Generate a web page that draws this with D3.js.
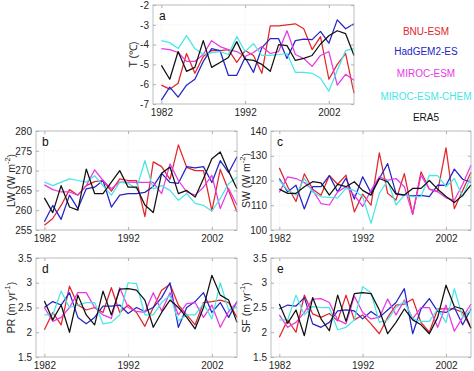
<!DOCTYPE html>
<html><head><meta charset="utf-8">
<script src="https://cdn.jsdelivr.net/npm/d3@7"></script>
<style>body{margin:0;background:#fff}svg{display:block}</style>
</head><body>
<svg id="c" width="474" height="371"></svg>
<script>
const years = d3.range(1982, 2006);
const seriesNames = ["BNU-ESM","HadGEM2-ES","MIROC-ESM","MIROC-ESM-CHEM","ERA5"];
const seriesColors = ["#e3262b","#2424c8","#e838e4","#48e6e6","#111111"];

// Panel a: T (°C)
const T_BNU   = [-6.05,-6.25,-5.95,-4.45,-5.45,-4.6,-4.3,-4.3,-4.25,-4.9,-4.3,-4.55,-5.45,-3.05,-3.05,-3.0,-2.95,-3.2,-4.25,-3.6,-5.75,-5.0,-4.45,-6.45];
const T_Had   = [-6.8,-6.15,-6.65,-6.05,-5.75,-4.85,-4.2,-4.3,-5.55,-5.55,-4.65,-5.4,-4.15,-3.7,-3.7,-4.7,-3.8,-3.72,-3.75,-3.33,-3.93,-2.75,-3.2,-2.95];
const T_MIR   = [-4.2,-4.25,-4.4,-4.85,-4.85,-4.5,-3.8,-4.1,-4.25,-4.35,-4.6,-4.4,-4.1,-4.45,-4.35,-3.3,-4.5,-4.7,-5.1,-4.55,-4.35,-6.05,-5.5,-5.8];
const T_CHEM  = [-3.8,-3.9,-4.2,-3.55,-4.2,-4.5,-4.4,-4.35,-4.5,-3.6,-4.35,-3.95,-4.55,-4.55,-4.5,-4.45,-5.4,-5.4,-5.45,-5.7,-6.35,-5.3,-4.3,-4.2];
const T_ERA   = [-5.05,-5.75,-4.35,-5.35,-5.15,-3.8,-5.15,-4.9,-4.65,-3.85,-4.75,-4.8,-5.0,-5.35,-4.0,-4.05,-4.8,-4.7,-4.55,-3.97,-3.55,-3.3,-3.45,-4.55];

// Panel b: LW (W m-2)
const LW_BNU  = [256.2,257.9,261.2,265.2,263.8,266.2,267.2,267.5,264.8,267.9,267.5,267.5,258.4,272.2,271.0,267.8,276.5,270.8,270.0,270.0,259.8,270.3,265.0,259.6];
const LW_Had  = [257.1,261.2,257.7,263.8,260.4,265.4,265.8,267.5,260.8,263.8,264.2,264.2,264.5,266.0,269.3,267.0,266.8,271.0,270.7,271.0,267.0,272.5,269.5,273.5];
const LW_MIR  = [266.4,265.2,264.6,264.6,263.8,266.2,270.2,267.5,265.4,267.1,267.1,267.0,267.0,267.0,264.2,271.7,267.5,264.6,263.8,265.8,268.8,260.4,265.5,261.3];
const LW_CHEM = [267.1,266.2,267.1,267.9,267.5,267.1,268.7,266.2,263.8,267.1,266.8,265.4,272.5,265.4,266.2,265.0,262.5,264.2,261.7,261.2,259.8,262.9,266.7,268.3];
const LW_ERA  = [263.1,259.4,266.2,260.8,260.0,270.4,264.2,264.2,267.1,270.0,265.8,265.8,261.3,259.4,269.3,270.9,264.2,265.0,263.3,268.0,273.0,274.7,269.8,265.4];

// Panel c: SW (W m-2)
const SW_BNU  = [125.1,117.5,111.5,122.7,116.5,114.0,122.0,118.5,122.2,107.3,114.5,110.0,131.2,114.8,112.1,122.8,106.3,123.5,116.5,115.5,133.2,108.6,116.0,123.3];
const SW_Had  = [120.8,115.4,118.1,108.5,117.5,117.5,122.0,115.4,121.0,112.5,121.5,115.0,120.8,126.8,114.8,114.1,113.8,114.0,113.5,118.1,118.0,124.6,120.5,119.3];
const SW_MIR  = [115.2,121.5,120.8,119.2,116.1,110.7,110.1,115.4,117.5,114.0,109.5,116.0,121.5,120.1,120.8,117.5,106.3,122.1,116.5,115.5,113.0,112.0,118.5,126.2];
const SW_CHEM = [120.1,116.1,114.1,120.8,115.4,113.4,113.2,113.0,116.8,116.0,113.5,102.7,114.8,120.0,110.1,114.1,113.5,113.5,122.1,122.0,117.5,120.8,113.4,121.5];
const SW_ERA  = [116.5,114.8,114.8,117.5,119.5,119.0,114.1,118.4,117.5,119.5,116.0,114.1,120.8,119.5,114.5,114.1,116.8,116.8,120.0,116.5,113.5,111.1,114.0,118.2];

// Panel d: PR (m yr-1)
const PR_BNU  = [2.05,2.40,2.15,2.93,2.55,2.45,2.50,2.40,2.90,2.40,2.55,2.40,2.12,2.50,2.85,2.97,2.55,2.35,2.15,2.60,2.62,2.65,2.60,2.30];
const PR_Had  = [2.50,2.62,2.55,2.80,2.30,2.17,2.30,2.53,2.53,2.55,2.38,2.50,2.42,2.50,2.70,3.00,2.10,2.50,2.62,2.80,2.40,2.60,2.30,2.62];
const PR_MIR  = [2.50,2.22,2.30,2.50,2.80,2.80,2.50,2.35,2.28,2.90,2.50,2.42,2.40,2.80,2.43,2.80,2.35,2.58,2.60,2.30,2.55,2.10,2.42,2.60];
const PR_CHEM = [2.35,2.35,2.83,2.50,2.55,2.60,2.60,2.17,2.20,2.35,3.00,2.98,2.35,2.35,2.60,2.75,2.23,2.35,2.35,2.58,2.27,3.00,2.45,2.52];
const PR_ERA  = [2.63,2.25,2.55,2.00,2.75,2.35,2.15,2.83,2.35,2.87,2.88,2.85,2.65,2.10,2.40,2.65,2.50,2.30,2.07,2.50,3.15,2.75,2.65,2.20];

// Panel e: SF (m yr-1)
const SF_BNU  = [1.90,2.25,2.00,2.75,2.37,2.30,2.38,2.23,2.75,2.25,2.35,2.17,1.97,2.30,2.55,2.57,2.67,2.20,2.00,2.47,2.47,2.47,2.40,2.08];
const SF_Had  = [2.47,2.55,2.53,2.70,2.17,2.10,2.20,2.43,2.45,2.43,2.27,2.42,2.30,2.45,2.60,2.88,1.97,2.47,2.68,2.42,2.40,2.50,2.15,2.47];
const SF_MIR  = [2.35,2.10,2.20,2.40,2.67,2.68,2.60,2.25,2.17,2.73,2.40,2.27,2.30,2.67,2.35,2.65,2.27,2.50,2.50,2.10,2.55,2.02,2.30,2.57];
const SF_CHEM = [2.25,2.25,2.75,2.35,2.52,2.50,2.50,2.05,2.10,2.25,2.92,2.80,2.20,2.25,2.50,2.62,2.27,2.22,2.22,2.47,2.20,2.88,2.30,2.45];
const SF_ERA  = [2.57,2.18,2.45,1.93,2.70,2.27,2.03,2.75,2.22,2.78,2.80,2.78,2.45,1.97,2.20,2.47,2.25,2.15,1.97,2.30,2.95,2.52,2.47,2.08];

const xTicks = [1982, 1992, 2002];
const xDomain = [1981, 2005];

const panels = [
  {id:"a", box:[153,5,354,104], dom:[-7,-2], ticks:[-7,-6,-5,-4,-3,-2], fmt:d=>String(d),
   title:[["T (℃)",0]], tx:133, data:[T_BNU,T_Had,T_MIR,T_CHEM,T_ERA]},
  {id:"b", box:[36,131,237,230], dom:[255,280], ticks:[255,260,265,270,275,280], fmt:d3.format("d"),
   title:[["LW (W m",0],["-2",1],[")",0]], tx:11, data:[LW_BNU,LW_Had,LW_MIR,LW_CHEM,LW_ERA]},
  {id:"c", box:[271,131,471,230], dom:[100,140], ticks:[100,110,120,130,140], fmt:d3.format("d"),
   title:[["SW (W m",0],["-2",1],[")",0]], tx:246, data:[SW_BNU,SW_Had,SW_MIR,SW_CHEM,SW_ERA]},
  {id:"d", box:[36,258,237,357], dom:[1.5,3.5], ticks:[1.5,2,2.5,3,3.5], fmt:d=>String(d),
   title:[["PR (m yr",0],["-1",1],[")",0]], tx:11, data:[PR_BNU,PR_Had,PR_MIR,PR_CHEM,PR_ERA]},
  {id:"e", box:[271,258,471,357], dom:[1.5,3.5], ticks:[1.5,2,2.5,3,3.5], fmt:d=>String(d),
   title:[["SF (m yr",0],["-1",1],[")",0]], tx:246, data:[SF_BNU,SF_Had,SF_MIR,SF_CHEM,SF_ERA]}
];

const svg = d3.select("#c");
const font = "'Liberation Sans', Arial, Helvetica, sans-serif";

panels.forEach(p => {
  const [x0,y0,x1,y1] = p.box;
  const x = d3.scaleLinear().domain(xDomain).range([x0,x1]);
  const y = d3.scaleLinear().domain(p.dom).range([y1,y0]);
  const g = svg.append("g");
  // grid
  g.selectAll(".gx").data(xTicks).join("line")
    .attr("x1",d=>x(d)).attr("x2",d=>x(d)).attr("y1",y0).attr("y2",y1)
    .attr("stroke","#e4e4e4").attr("stroke-width",0.6).attr("stroke-dasharray","1,1.5");
  g.selectAll(".gy").data(p.ticks).join("line")
    .attr("x1",x0).attr("x2",x1).attr("y1",d=>y(d)).attr("y2",d=>y(d))
    .attr("stroke","#e4e4e4").attr("stroke-width",0.6).attr("stroke-dasharray","1,1.5");
  // lines
  const line = d3.line().x((d,i)=>x(years[i])).y(d=>y(d));
  p.data.forEach((s,k)=>{
    g.append("path").datum(s).attr("d",line).attr("fill","none")
      .attr("stroke",seriesColors[k]).attr("stroke-width",1.25).attr("stroke-linejoin","round");
  });
  // box
  g.append("rect").attr("x",x0).attr("y",y0).attr("width",x1-x0).attr("height",y1-y0)
    .attr("fill","none").attr("stroke","#b0b0b0").attr("stroke-width",0.8);
  // axes
  const ax = g.append("g").attr("transform",`translate(0,${y1})`)
    .call(d3.axisBottom(x).tickValues(xTicks).tickFormat(d3.format("d")).tickSize(-3).tickPadding(5));
  const ay = g.append("g").attr("transform",`translate(${x0},0)`)
    .call(d3.axisLeft(y).tickValues(p.ticks).tickFormat(p.fmt).tickSize(-3).tickPadding(4));
  // top / right ticks
  g.append("g").attr("transform",`translate(0,${y0})`)
    .call(d3.axisTop(x).tickValues(xTicks).tickFormat("").tickSize(-3)).select(".domain").remove();
  g.append("g").attr("transform",`translate(${x1},0)`)
    .call(d3.axisRight(y).tickValues(p.ticks).tickFormat("").tickSize(-3)).select(".domain").remove();
  [ax,ay].forEach(a=>{
    a.select(".domain").remove();
    a.selectAll("text").attr("font-family",font).attr("font-size",10).attr("fill","#262626");
  });
  g.selectAll(".tick line").attr("stroke","#b0b0b0");
  // panel letter
  g.append("text").attr("x",x0+6).attr("y",y0+15).text(p.id)
    .attr("font-family",font).attr("font-size",12).attr("fill","#111");
  // y title
  const yc = (y0+y1)/2;
  const t = g.append("text").attr("transform",`translate(${p.tx},${yc}) rotate(-90)`)
    .attr("text-anchor","middle").attr("dominant-baseline","central")
    .attr("font-family",font).attr("font-size",10.5).attr("fill","#262626");
  p.title.forEach(([s,sup],i)=>{
    const ts = t.append("tspan").text(s);
    if (sup) ts.attr("font-size",7.5).attr("dy",-4.5);
    else if (i>0 && p.title[i-1][1]) ts.attr("dy",4.5);
  });
});

// legend
const legY = [31,51,73,96,117];
svg.selectAll(".leg").data(seriesNames).join("text")
  .attr("x",426).attr("y",(d,i)=>legY[i]).attr("text-anchor","middle")
  .attr("dominant-baseline","central")
  .attr("font-family",font).attr("font-size",10)
  .attr("fill",(d,i)=>seriesColors[i]).text(d=>d);
</script>
</body></html>
